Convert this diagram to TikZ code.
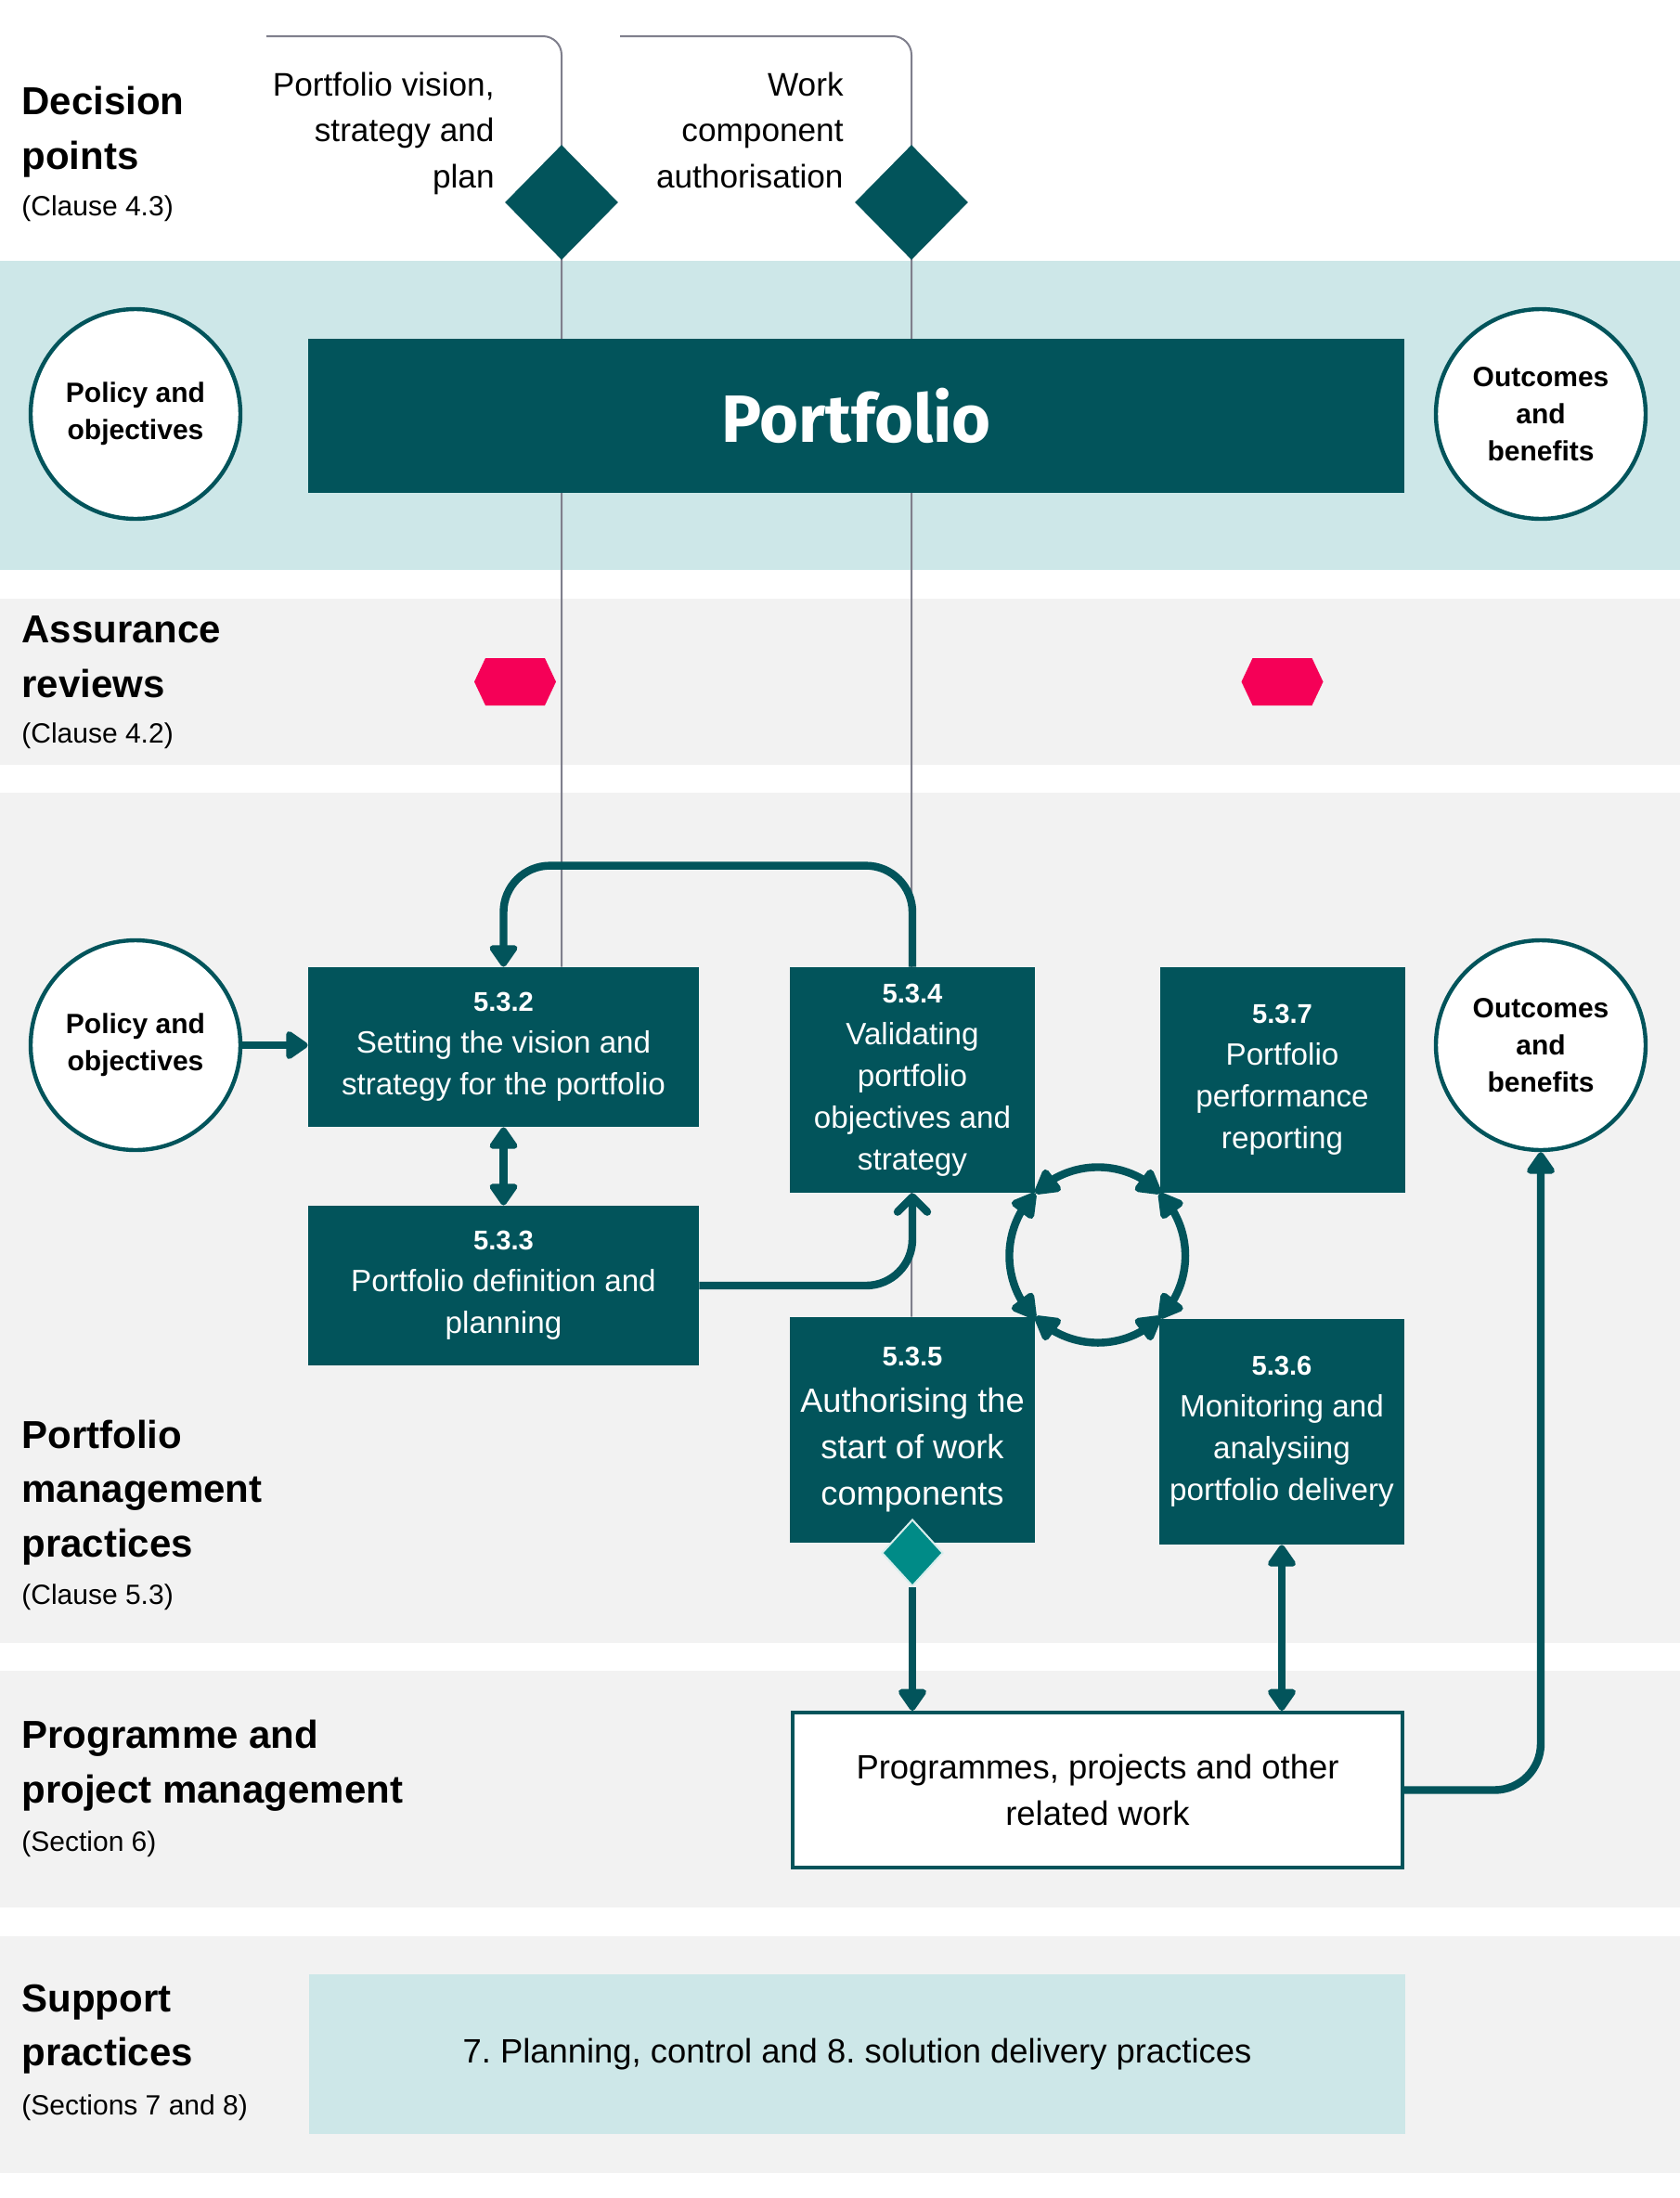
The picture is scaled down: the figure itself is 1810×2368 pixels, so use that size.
\documentclass[tikz,border=0pt]{standalone}
\usepackage{fontspec}
\setmainfont{Liberation Sans}
\newfontfamily\titlefont{Fira Sans}
\usetikzlibrary{arrows.meta,shapes.geometric,bending,calc}
\definecolor{dteal}{HTML}{02545B}
\definecolor{lteal}{HTML}{CDE7E8}
\definecolor{lgrey}{HTML}{F2F2F2}
\definecolor{pinkred}{HTML}{F50057}
\definecolor{mteal}{HTML}{008B87}
\definecolor{gline}{HTML}{7F7F8C}
\pgfdeclarelayer{bands}
\pgfdeclarelayer{glines}
\pgfsetlayers{bands,glines,main}
\frenchspacing
\newcommand{\lblhead}{\fontsize{21}{29}\selectfont\bfseries}
\newcommand{\lblcl}{\fontsize{15}{20}\selectfont}
\newcommand{\toptext}{\fontsize{17.6}{24.6}\selectfont}
\newcommand{\boxtext}{\fontsize{16.6}{22.5}\selectfont}
\newcommand{\boxbig}{\fontsize{18.1}{25}\selectfont}
\newcommand{\boxnum}{\fontsize{14.6}{20}\selectfont\bfseries}
\newcommand{\circtext}{\fontsize{15}{20}\selectfont\bfseries}
\newcommand{\progtext}{\fontsize{18.2}{25}\selectfont}
\tikzset{
  ArrT/.tip={Triangle[length=13pt,width=17pt,round]},
  ArrC/.tip={Triangle[length=15pt,width=16pt,round]},
  ArrB/.tip={Straight Barb[length=8pt,width=16pt,round]},
  pbox/.style={rectangle, fill=dteal, text=white, inner sep=0pt, align=center, font=\boxtext},
  circ/.style={circle, draw=dteal, line width=2.2pt, fill=white, minimum size=113pt, inner sep=0pt, align=center, font=\circtext},
  conn/.style={draw=dteal, line width=4.2pt},
  gl/.style={draw=gline, line width=1pt},
  lblh/.style={anchor=base west, inner sep=0pt, font=\lblhead},
  lblc/.style={anchor=base west, inner sep=0pt, font=\lblcl},
  topr/.style={anchor=base east, inner sep=0pt, font=\toptext},
  dec/.style={diamond, fill=dteal, inner sep=0pt, minimum width=61pt, minimum height=62pt},
}
\begin{document}
\begin{tikzpicture}[x=0.5pt,y=-0.5pt]
\useasboundingbox (0,0) rectangle (1810,2368);
\begin{pgfonlayer}{bands}
\fill[white] (0,0) rectangle (1810,2368);
\fill[lteal] (0,281) rectangle (1810,614);
\fill[lgrey] (0,645) rectangle (1810,824);
\fill[lgrey] (0,854) rectangle (1810,1770);
\fill[lgrey] (0,1800) rectangle (1810,2055);
\fill[lgrey] (0,2086) rectangle (1810,2341);
\end{pgfonlayer}

% left labels
\node[lblh] (dp1) at (23,123) {Decision};
\node[lblh] (dp2) at (23,182) {points};
\node[lblc] (dp3) at (23,232.5) {(Clause 4.3)};
\node[lblh] (ar1) at (23,692) {Assurance};
\node[lblh] (ar2) at (23,751) {reviews};
\node[lblc] (ar3) at (23,800) {(Clause 4.2)};
\node[lblh] (pm1) at (23,1560) {Portfolio};
\node[lblh] (pm2) at (23,1618) {management};
\node[lblh] (pm3) at (23,1677) {practices};
\node[lblc] (pm4) at (23,1728) {(Clause 5.3)};
\node[lblh] (pp1) at (23,1883) {Programme and};
\node[lblh] (pp2) at (23,1942) {project management};
\node[lblc] (pp3) at (23,1994) {(Section 6)};
\node[lblh] (sp1) at (23,2167) {Support};
\node[lblh] (sp2) at (23,2225) {practices};
\node[lblc] (sp3) at (23,2278) {(Sections 7 and 8)};

% decision points
\node[topr] (t11) at (533,103.6) {Portfolio vision,};
\node[topr] (t12) at (533,152.5) {strategy and};
\node[topr] (t13) at (533,202) {plan};
\node[topr] (t21) at (909,103.6) {Work};
\node[topr] (t22) at (909,152.5) {component};
\node[topr] (t23) at (909,202) {authorisation};
\coordinate (g1s) at (287,39);
\coordinate (g2s) at (668,39);
\node[dec] (d1) at (605,218) {};
\node[dec] (d2) at (982,218) {};

% portfolio band
\node[circ] (pol1) at (146,446) {Policy and\\objectives};
\node[circ] (out1) at (1660,446) {Outcomes\\and\\benefits};
\node[rectangle, fill=dteal, text=white, inner sep=0pt, minimum width=590.5pt, minimum height=83pt,
      font=\titlefont\bfseries\fontsize{36}{40}\selectfont] (port) at (922.5,448) {Portfolio};

% assurance hexagons
\coordinate (h1) at (555,734.5);
\coordinate (h2) at (1381.5,734.5);
\fill[pinkred] (h1) ++(-44,0) -- ++(12,-25.5) -- ++(64,0) -- ++(12,25.5) -- ++(-12,25.5) -- ++(-64,0) -- cycle;
\fill[pinkred] (h2) ++(-44,0) -- ++(12,-25.5) -- ++(64,0) -- ++(12,25.5) -- ++(-12,25.5) -- ++(-64,0) -- cycle;

% practices
\node[circ] (pol2) at (146,1126) {Policy and\\objectives};
\node[circ] (out2) at (1660,1126) {Outcomes\\and\\benefits};
\node[pbox, minimum width=210.5pt, minimum height=86pt] (s532) at (542.5,1128)
  {{\boxnum 5.3.2}\\Setting the vision and\\strategy for the portfolio};
\node[pbox, minimum width=210.5pt, minimum height=86pt] (s533) at (542.5,1385)
  {{\boxnum 5.3.3}\\Portfolio definition and\\planning};
\node[pbox, minimum width=132pt, minimum height=121.5pt] (s534) at (983,1163.5)
  {{\boxnum 5.3.4}\\Validating\\portfolio\\objectives and\\strategy};
\node[pbox, minimum width=132pt, minimum height=121.5pt, font=\boxbig] (s535) at (983,1540.5)
  {{\boxnum 5.3.5}\\Authorising the\\start of work\\components};
\node[pbox, minimum width=132pt, minimum height=121.5pt] (s536) at (1381,1542.5)
  {{\boxnum 5.3.6}\\Monitoring and\\analysiing\\portfolio delivery};
\node[pbox, minimum width=132pt, minimum height=121.5pt] (s537) at (1381.5,1163.5)
  {{\boxnum 5.3.7}\\Portfolio\\performance\\reporting};
\node[diamond, fill=mteal, draw=white!85!mteal, line width=1pt, inner sep=0pt,
      minimum width=33pt, minimum height=36pt] (dmd) at (983,1673) {};

% programme & support
\node[rectangle, draw=dteal, line width=2pt, fill=white, minimum width=328.5pt, minimum height=83.5pt,
      align=center, font=\progtext] (prog) at (1182.5,1928.5)
  {Programmes, projects and other\\related work};
\node[rectangle, fill=lteal, minimum width=590.5pt, minimum height=86pt, inner sep=0pt,
      font=\progtext] (supp) at (923.5,2213)
  {7. Planning, control and 8. solution delivery practices};

% grey decision lines
\begin{pgfonlayer}{glines}
\draw[gl, rounded corners=10pt] (g1s) -| (d1.north |- s532.north);
\draw[gl, rounded corners=10pt] (g2s) -| (d2.north |- s535.north);
\end{pgfonlayer}

% connectors
\draw[conn, -ArrT] (pol2.east) -- (pol2.east -| s532.west);
\draw[conn, ArrT-ArrT] (s532.south) -- (s533.north);
\draw[conn, rounded corners=25pt, -ArrT] (s534.north) -- ++(0,-109) -| (s532.north);
\draw[conn, rounded corners=25pt, -ArrB] (s533.east) -| (s534.south);
\draw[conn, ArrC-ArrC] (s534.south east) arc[start angle=135, end angle=45, radius=47.7pt];
\draw[conn, ArrC-ArrC] (s537.south west) arc[start angle=45, end angle=-45, radius=47.7pt];
\draw[conn, ArrC-ArrC] (s535.north east) arc[start angle=225, end angle=315, radius=47.7pt];
\draw[conn, ArrC-ArrC] (s534.south east) arc[start angle=135, end angle=225, radius=47.7pt];
\draw[conn, -ArrT] (dmd.south) -- (prog.north -| dmd.south);
\draw[conn, ArrT-ArrT] (s536.south) -- (s536.south |- prog.north);
\draw[conn, rounded corners=25pt, -ArrT] (prog.east) -| (out2.south);
\end{tikzpicture}
\end{document}
